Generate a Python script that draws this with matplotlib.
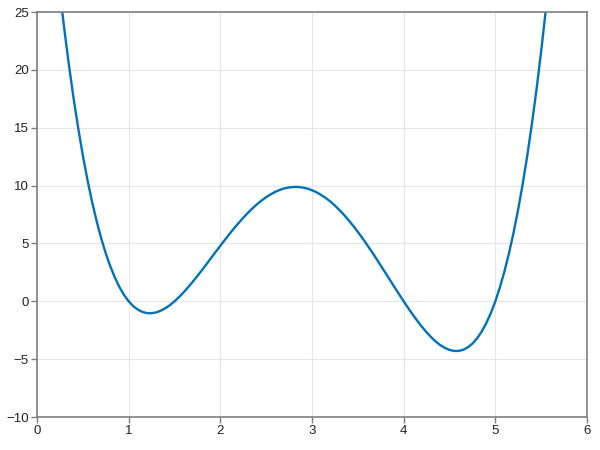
import numpy as np
import matplotlib
matplotlib.use("Agg")
import matplotlib.pyplot as plt

# curve values, every 0.05 in x
x_vals = [0.2, 0.25, 0.3, 0.35, 0.4, 0.45, 0.5, 0.55, 0.6, 0.65, 0.7, 0.75,
          0.8, 0.85, 0.9, 0.95, 1.0, 1.05, 1.1, 1.15, 1.2, 1.25, 1.3, 1.35,
          1.4, 1.45, 1.5, 1.55, 1.6, 1.65, 1.7, 1.75, 1.8, 1.85, 1.9, 1.95,
          2.0, 2.05, 2.1, 2.15, 2.2, 2.25, 2.3, 2.35, 2.4, 2.45, 2.5, 2.55,
          2.6, 2.65, 2.7, 2.75, 2.8, 2.85, 2.9, 2.95, 3.0, 3.05, 3.1, 3.15,
          3.2, 3.25, 3.3, 3.35, 3.4, 3.45, 3.5, 3.55, 3.6, 3.65, 3.7, 3.75,
          3.8, 3.85, 3.9, 3.95, 4.0, 4.05, 4.1, 4.15, 4.2, 4.25, 4.3, 4.35,
          4.4, 4.45, 4.5, 4.55, 4.6, 4.65, 4.7, 4.75, 4.8, 4.85, 4.9, 4.95,
          5.0, 5.05, 5.1, 5.15, 5.2, 5.25, 5.3, 5.35, 5.4, 5.45, 5.5, 5.55, 5.6]
y_vals = [30.35, 26.72, 23.37, 20.30, 17.49, 14.93, 12.6, 10.50, 8.62, 6.94,
          5.45, 4.14, 3.01, 2.04, 1.22, 0.54, 0.0, -0.42, -0.72, -0.92, -1.02,
          -1.03, -0.96, -0.81, -0.60, -0.33, 0.0, 0.37, 0.78, 1.23, 1.70, 2.19,
          2.70, 3.22, 3.75, 4.28, 4.8, 5.32, 5.82, 6.31, 6.77, 7.22, 7.64, 8.03,
          8.39, 8.71, 9.0, 9.25, 9.46, 9.63, 9.76, 9.84, 9.88, 9.88, 9.83, 9.74,
          9.6, 9.42, 9.19, 8.93, 8.62, 8.27, 7.88, 7.46, 7.00, 6.52, 6.0, 5.46,
          4.89, 4.31, 3.71, 3.09, 2.47, 1.85, 1.22, 0.61, 0.0, -0.59, -1.16,
          -1.70, -2.21, -2.68, -3.10, -3.48, -3.79, -4.03, -4.2, -4.29, -4.29,
          -4.19, -3.98, -3.66, -3.21, -2.63, -1.91, -1.04, 0.0, 1.21, 2.60,
          4.18, 5.97, 7.97, 10.20, 12.66, 15.38, 18.35, 21.6, 25.13, 28.97]
x_ticks = [0, 1, 2, 3, 4, 5, 6]
y_ticks = [-10, -5, 0, 5, 10, 15, 20, 25]

plt.rcParams['font.family'] = ['Liberation Sans', 'DejaVu Sans']

fig = plt.figure(figsize=(6, 4.5), dpi=100)
ax = fig.add_axes([0.0617, 0.0733, 0.9166, 0.9])

ax.plot(x_vals, y_vals, color='#0072bd', linewidth=1.7)

ax.set_xlim(0, 6)
ax.set_ylim(-10, 25)
ax.set_xticks(x_ticks)
ax.set_yticks(y_ticks)
ax.grid(True, color='#e6e6e6', linewidth=0.8)
ax.set_axisbelow(True)

for s in ax.spines.values():
    s.set_color('#7f7f7f')
    s.set_linewidth(1.2)

ax.tick_params(direction='out', length=4, width=1, color='#7f7f7f',
               labelsize=9.5, labelcolor='#222222', pad=2)

fig.savefig('out.png', dpi=100)
